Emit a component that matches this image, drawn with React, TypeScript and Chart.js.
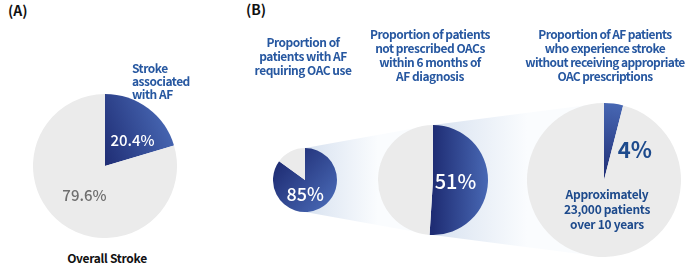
import React, { useEffect, useRef } from "react";
import { Chart, registerables } from "chart.js";

Chart.register(...registerables);

// ---- data ----
const pieALabels = ["Stroke associated with AF", "Other stroke"];
const pieAValues = [20.4, 79.6];
const pieB1Labels = ["Requiring OAC use", "Not requiring"];
const pieB1Values = [85, 15];
const pieB2Labels = ["Not prescribed OACs", "Prescribed"];
const pieB2Values = [51, 49];
const pieB3Labels = ["Stroke without OAC", "Other"];
const pieB3Values = [4, 96];

const titleA = ["Stroke", "associated", "with AF"];
const titleB1 = ["Proportion of", "patients with AF", "requiring OAC use"];
const titleB2 = ["Proportion of patients", "not prescribed OACs", "within 6 months of", "AF diagnosis"];
const titleB3 = ["Proportion of AF patients", "who experience stroke", "without receiving appropriate", "OAC prescriptions"];
const noteB3 = ["Approximately", "23,000 patients", "over 10 years"];

const FONT = "'Noto Sans CJK KR', 'Noto Sans', sans-serif";
const GRAY = "#ebebeb";
const DARK = "#1f2d74";
const LIGHT = "#4868b4";

type LabelSpec = { text: string; color: string; size: number; weight: string; f: number; dx: number; dy: number } | null;

const sliceLabelPlugin = {
  id: "sliceLabels",
  afterDatasetsDraw(chart: any) {
    const specs: LabelSpec[] = chart.options.plugins.sliceLabels?.labels || [];
    const ctx = chart.ctx;
    const meta = chart.getDatasetMeta(0);
    meta.data.forEach((arc: any, i: number) => {
      const s = specs[i];
      if (!s) return;
      const p = arc.getProps(["x", "y", "startAngle", "endAngle", "outerRadius"], true);
      const mid = (p.startAngle + p.endAngle) / 2;
      const x = p.x + Math.cos(mid) * p.outerRadius * s.f + s.dx;
      const y = p.y + Math.sin(mid) * p.outerRadius * s.f + s.dy;
      ctx.save();
      ctx.fillStyle = s.color;
      ctx.font = `${s.weight} ${s.size}px ${FONT}`;
      ctx.textAlign = "center";
      ctx.textBaseline = "middle";
      ctx.fillText(s.text, x, y);
      ctx.restore();
    });
  },
};

type PieProps = {
  cx: number; cy: number; r: number;
  labels: string[]; values: number[];
  grad: [number, number, number, number];
  sliceLabels: LabelSpec[];
};

function Pie({ cx, cy, r, labels, values, grad, sliceLabels }: PieProps) {
  const ref = useRef<HTMLCanvasElement>(null);
  useEffect(() => {
    if (!ref.current) return;
    const chart = new Chart(ref.current, {
      type: "pie",
      data: {
        labels,
        datasets: [
          {
            data: values,
            borderWidth: 0,
            backgroundColor: (c: any) => {
              if (c.dataIndex !== 0) return GRAY;
              const a = c.chart.chartArea;
              if (!a) return DARK;
              const w = a.right - a.left, h = a.bottom - a.top;
              const g = c.chart.ctx.createLinearGradient(
                a.left + grad[0] * w, a.top + grad[1] * h,
                a.left + grad[2] * w, a.top + grad[3] * h
              );
              g.addColorStop(0, DARK);
              g.addColorStop(1, LIGHT);
              return g;
            },
          },
        ],
      },
      options: {
        responsive: false,
        animation: false,
        layout: { padding: 0 },
        plugins: {
          legend: { display: false },
          tooltip: { enabled: false },
          sliceLabels: { labels: sliceLabels },
        } as any,
      },
      plugins: [sliceLabelPlugin],
    });
    return () => chart.destroy();
  }, []);
  return (
    <canvas
      ref={ref}
      width={2 * r}
      height={2 * r}
      style={{ position: "absolute", left: cx - r, top: cy - r, width: 2 * r, height: 2 * r }}
    />
  );
}

function TextBlock({ lines, x, top, size, lh, color, align, weight = 700, ls = 0 }: any) {
  return (
    <div
      style={{
        position: "absolute",
        left: x,
        top,
        transform: align === "center" ? "translateX(-50%)" : undefined,
        textAlign: align,
        whiteSpace: "nowrap",
        fontFamily: FONT,
        fontWeight: weight,
        fontSize: size,
        letterSpacing: ls,
        lineHeight: lh + "px",
        color,
      }}
    >
      {lines.map((l: string, i: number) => (
        <div key={i}>{l}</div>
      ))}
    </div>
  );
}

const A = { cx: 105, cy: 166, r: 72 };
const B1 = { cx: 305, cy: 180, r: 32 };
const B2 = { cx: 433, cy: 180, r: 55 };
const B3 = { cx: 604, cy: 180, r: 77 };

function band(a: typeof B1, b: typeof B1) {
  return `${a.cx},${a.cy - a.r} ${b.cx},${b.cy - b.r} ${b.cx},${b.cy + b.r} ${a.cx},${a.cy + a.r}`;
}

export default function App() {
  const TITLE = "#2657a0";
  const INNER = "#1d4a8c";
  return (
    <div style={{ position: "absolute", left: 0, top: 0, width: 685, height: 265, background: "#fff", overflow: "hidden" }}>
      <svg width={685} height={265} style={{ position: "absolute", left: 0, top: 0 }}>
        <defs>
          <linearGradient id="g1" gradientUnits="userSpaceOnUse" x1={B1.cx} y1={0} x2={B2.cx - B2.r} y2={0}>
            <stop offset="0" stopColor="#d8e2f0" />
            <stop offset="1" stopColor="#fafcfe" />
          </linearGradient>
          <linearGradient id="g2" gradientUnits="userSpaceOnUse" x1={B2.cx} y1={0} x2={B3.cx - B3.r} y2={0}>
            <stop offset="0" stopColor="#d8e2f0" />
            <stop offset="1" stopColor="#fafcfe" />
          </linearGradient>
        </defs>
        <polygon points={band(B1, B2)} fill="url(#g1)" />
        <polygon points={band(B2, B3)} fill="url(#g2)" />
      </svg>

      <Pie {...A} labels={pieALabels} values={pieAValues} grad={[0.5, 0.5, 1, 0.3]}
        sliceLabels={[
          { text: "20.4%", color: "#ffffff", size: 15, weight: "500", f: 0.5, dx: 6, dy: 3 },
          { text: "79.6%", color: "#6f6f6f", size: 15, weight: "500", f: 0.5, dx: 1, dy: 0 },
        ]} />
      <Pie {...B1} labels={pieB1Labels} values={pieB1Values} grad={[0.1, 0.2, 0.9, 0.9]}
        sliceLabels={[
          { text: "85%", color: "#ffffff", size: 18, weight: "500", f: 0.5, dx: -7, dy: 0 },
          null,
        ]} />
      <Pie {...B2} labels={pieB2Labels} values={pieB2Values} grad={[0.5, 0.5, 1, 0.5]}
        sliceLabels={[
          { text: "51%", color: "#ffffff", size: 20, weight: "500", f: 0.5, dx: -5, dy: 1 },
          null,
        ]} />
      <Pie {...B3} labels={pieB3Labels} values={pieB3Values} grad={[0.5, 0.5, 0.6, 0]}
        sliceLabels={[
          { text: "4%", color: INNER, size: 22, weight: "700", f: 0.5, dx: 26, dy: 8 },
          null,
        ]} />

      <TextBlock lines={["(A)"]} x={8} top={1} size={14} lh={18} color="#111" align="left" />
      <TextBlock lines={["(B)"]} x={246} top={0} size={14} lh={18} color="#111" align="left" />
      <TextBlock lines={titleA} x={132} top={61} size={12} lh={13} ls={-0.5} color={TITLE} align="left" />
      <TextBlock lines={titleB1} x={303} top={35} size={12} lh={14} ls={-0.5} color={TITLE} align="center" />
      <TextBlock lines={titleB2} x={430} top={27} size={12} lh={14} ls={-0.5} color={TITLE} align="center" />
      <TextBlock lines={titleB3} x={605} top={27} size={12} lh={14} ls={-0.6} color={TITLE} align="center" />
      <TextBlock lines={noteB3} x={607} top={186} size={12} lh={15} ls={-0.3} color={INNER} align="center" />
      <TextBlock lines={["Overall Stroke"]} x={107} top={250} size={12} lh={16} ls={-0.3} color="#111" align="center" />
    </div>
  );
}
